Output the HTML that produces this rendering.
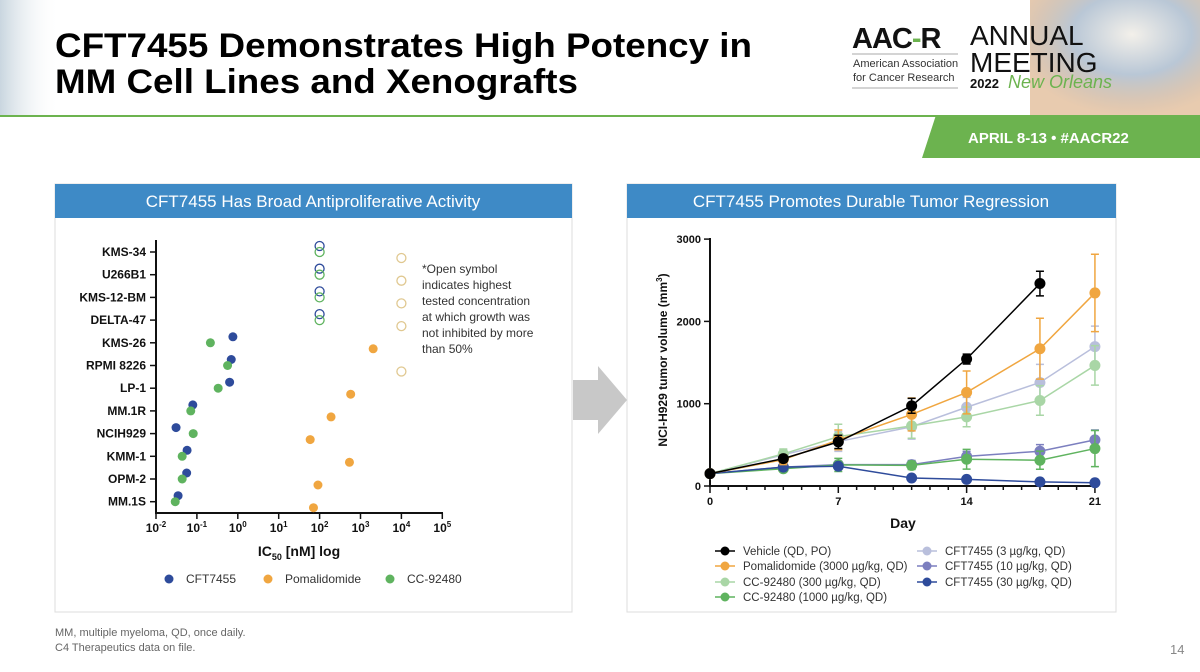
<!DOCTYPE html>
<html><head><meta charset="utf-8"><style>
body{margin:0;width:1200px;height:672px;background:#fff;font-family:"Liberation Sans",sans-serif;overflow:hidden;position:relative}
svg{position:absolute;left:0;top:0}
</style></head><body>
<svg width="1200" height="672" viewBox="0 0 1200 672">
<defs>
<linearGradient id="lg" x1="0" x2="1"><stop offset="0" stop-color="#c9d6df"/><stop offset="1" stop-color="#fff" stop-opacity="0"/></linearGradient>
<radialGradient id="rg" cx="0.6" cy="0.3" r="0.7"><stop offset="0" stop-color="#f3f0ea"/><stop offset="0.5" stop-color="#b9c7d6"/><stop offset="1" stop-color="#d8a87a" stop-opacity="0.6"/></radialGradient>
</defs>
<rect x="0" y="0" width="60" height="115" fill="url(#lg)"/>
<rect x="1030" y="0" width="170" height="115" fill="url(#rg)"/>
<line x1="0" y1="116" x2="1200" y2="116" stroke="#6cb34f" stroke-width="2"/>
<polygon points="936,115 1200,115 1200,158 922,158" fill="#6cb34f"/>
<text x="968" y="143" fill="#fff" font-size="15" font-weight="bold">APRIL 8-13 • #AACR22</text>
<g>
<text x="852" y="48" font-size="29" font-weight="bold" fill="#111" letter-spacing="-1">AAC<tspan fill="#6cb34f">-</tspan>R</text>
<line x1="852" y1="54" x2="958" y2="54" stroke="#aaa"/>
<text x="853" y="67" font-size="11" fill="#333">American Association</text>
<text x="853" y="81" font-size="11" fill="#333">for Cancer Research</text>
<line x1="852" y1="88" x2="958" y2="88" stroke="#aaa"/>
<text x="970" y="45" font-size="28" fill="#111">ANNUAL</text>
<text x="970" y="72" font-size="28" fill="#111">MEETING</text>
<text x="970" y="88" font-size="13" font-weight="bold" fill="#111">2022</text>
<text x="1008" y="88" font-size="18" font-style="italic" fill="#6cb34f">New Orleans</text>
</g>
<text x="55" y="57" font-size="34" font-weight="bold" fill="#000" textLength="697" lengthAdjust="spacingAndGlyphs">CFT7455 Demonstrates High Potency in</text>
<text x="55" y="93" font-size="34" font-weight="bold" fill="#000" textLength="523" lengthAdjust="spacingAndGlyphs">MM Cell Lines and Xenografts</text>

<rect x="55" y="184" width="517" height="428" fill="#fff" stroke="#ddd"/>
<rect x="55" y="184" width="517" height="34" fill="#3e8ac6"/>
<text x="313" y="207" font-size="17" fill="#fff" text-anchor="middle">CFT7455 Has Broad Antiproliferative Activity</text>
<rect x="627" y="184" width="489" height="428" fill="#fff" stroke="#ddd"/>
<rect x="627" y="184" width="489" height="34" fill="#3e8ac6"/>
<text x="871" y="207" font-size="17" fill="#fff" text-anchor="middle">CFT7455 Promotes Durable Tumor Regression</text>
<polygon points="573,380 598,380 598,366 627,400 598,434 598,420 573,420" fill="#c8c8c8"/>

<g id="left"></g>
<g id="right"></g>

<text x="55" y="636" font-size="11" fill="#666">MM, multiple myeloma, QD, once daily.</text>
<text x="55" y="651" font-size="11" fill="#666">C4 Therapeutics data on file.</text>
<text x="1170" y="654" font-size="13" fill="#888">14</text>
</svg>
<script>
const NS="http://www.w3.org/2000/svg";
function mk(p,t,a){const e=document.createElementNS(NS,t);for(const k in a)e.setAttribute(k,a[k]);p.appendChild(e);return e;}
// ---- Left chart data ----
const cellLines=["KMS-34","U266B1","KMS-12-BM","DELTA-47","KMS-26","RPMI 8226","LP-1","MM.1R","NCIH929","KMM-1","OPM-2","MM.1S"];
const cftLog=[2,2,2,2,-0.12,-0.16,-0.20,-1.10,-1.51,-1.24,-1.25,-1.46];
const cftOpen=[1,1,1,1,0,0,0,0,0,0,0,0];
const pomLog=[4,4,4,4,3.31,4,2.76,2.28,1.77,2.73,1.96,1.85];
const pomOpen=[1,1,1,1,0,1,0,0,0,0,0,0];
const ccLog=[2,2,2,2,-0.67,-0.25,-0.48,-1.15,-1.09,-1.36,-1.36,-1.53];
const ccOpen=[1,1,1,1,0,0,0,0,0,0,0,0];
const xTickExp=[-2,-1,0,1,2,3,4,5];
const L=document.getElementById('left');
const lx=v=>156+(v+2)*40.9;
const ly=i=>252+i*22.7;
mk(L,'line',{x1:156,y1:240,x2:156,y2:513,stroke:'#111','stroke-width':2});
mk(L,'line',{x1:155,y1:513,x2:443,y2:513,stroke:'#111','stroke-width':2});
cellLines.forEach((c,i)=>{
  mk(L,'line',{x1:150,y1:ly(i),x2:156,y2:ly(i),stroke:'#111','stroke-width':1.5});
  const t=mk(L,'text',{x:146,y:ly(i)+4,'font-size':12,'font-weight':'bold','text-anchor':'end',fill:'#111'});
  t.textContent=c;
  
});
xTickExp.forEach(e=>{
  mk(L,'line',{x1:lx(e),y1:513,x2:lx(e),y2:519,stroke:'#111','stroke-width':1.5});
  const t=mk(L,'text',{x:lx(e),y:532,'font-size':12,'font-weight':'bold','text-anchor':'middle',fill:'#111'});
  t.innerHTML='10<tspan font-size="8" dy="-5">'+e+'</tspan>';
  
});
const xl=mk(L,'text',{x:299,y:556,'font-size':14,'font-weight':'bold','text-anchor':'middle',fill:'#111'});
xl.innerHTML='IC<tspan font-size="9" dy="4">50</tspan><tspan dy="-4"> [nM] log</tspan>';

const ser=[[cftLog,cftOpen,'#2e4b9b',-6,'cft7455'],[ccLog,ccOpen,'#5fb35f',0,'cc-92480'],[pomLog,pomOpen,'#f0a640',6,'pomalidomide']];
ser.forEach(([vals,open,col,off,nm])=>{
  vals.forEach((v,i)=>{
    const c=mk(L,'circle',{cx:lx(v),cy:ly(i)+off,r:4.5,fill:open[i]?'none':col,stroke:open[i]?(nm=='pomalidomide'?'#e0c890':col):'none','stroke-width':1.3});
    
  });
});
const note=["*Open symbol","indicates highest","tested concentration","at which growth was","not inhibited by more","than 50%"];
note.forEach((s,i)=>{const t=mk(L,'text',{x:422,y:273+i*16,'font-size':12,fill:'#333'});t.textContent=s;});
const lgL=[["CFT7455",'#2e4b9b',169],["Pomalidomide",'#f0a640',268],["CC-92480",'#5fb35f',390]];
lgL.forEach(([s,c,x])=>{
  mk(L,'circle',{cx:x,cy:579,r:4.5,fill:c});
  const t=mk(L,'text',{x:x+17,y:583,'font-size':12,fill:'#333'});t.textContent=s;
});
// ---- Right chart data ----
const days=[0,4,7,11,14,18,21];
const vehicle=[150,333,536,974,1543,2460,null];
const vehicleErr=[0,40,80,90,60,150,0];
const poma=[150,320,560,870,1137,1668,2346];
const pomaErr=[0,60,120,200,260,370,470];
const cft3=[150,380,540,720,957,1258,1693];
const cft3Err=[0,60,120,150,120,220,250];
const cc300=[150,390,600,730,840,1039,1465];
const cc300Err=[0,60,150,150,120,180,240];
const cft10=[150,230,260,260,360,422,560];
const cft10Err=[0,30,40,50,60,80,120];
const cc1000=[150,210,256,250,325,313,455];
const cc1000Err=[0,30,80,50,120,110,220];
const cft30=[150,230,240,97,80,50,40];
const cft30Err=[0,20,20,20,15,10,10];
const yTicks=[0,1000,2000,3000];
const xTicks=[0,7,14,21];
const R=document.getElementById('right');
const rx=d=>710+d*18.33;
const ry=v=>486-v*0.0823;
mk(R,'line',{x1:710,y1:238,x2:710,y2:487,stroke:'#111','stroke-width':2});
mk(R,'line',{x1:709,y1:486,x2:1096,y2:486,stroke:'#111','stroke-width':2});
yTicks.forEach(v=>{
  mk(R,'line',{x1:704,y1:ry(v),x2:710,y2:ry(v),stroke:'#111','stroke-width':1.5});
  const t=mk(R,'text',{x:701,y:ry(v)+4,'font-size':11,'font-weight':'bold','text-anchor':'end',fill:'#111'});t.textContent=v;
});
for(let d=0;d<=21;d++){mk(R,'line',{x1:rx(d),y1:486,x2:rx(d),y2:d%7==0?493:490,stroke:'#111','stroke-width':1.5});}
xTicks.forEach(d=>{const t=mk(R,'text',{x:rx(d),y:505,'font-size':11,'font-weight':'bold','text-anchor':'middle',fill:'#111'});t.textContent=d;});
const dl=mk(R,'text',{x:903,y:528,'font-size':14,'font-weight':'bold','text-anchor':'middle',fill:'#111'});dl.textContent='Day';
const yt=mk(R,'text',{x:0,y:0,'font-size':12,'font-weight':'bold','text-anchor':'middle',fill:'#111',transform:'translate(667,360) rotate(-90)'});
yt.innerHTML='NCI-H929 tumor volume (mm<tspan font-size="8" dy="-5">3</tspan><tspan dy="5">)</tspan>';

const rs=[[cft3,cft3Err,'#b9bfdc','cft7455-3'],[cc300,cc300Err,'#a9d6a6','cc-92480-300'],[cft10,cft10Err,'#7c7fbf','cft7455-10'],[cc1000,cc1000Err,'#5fb35f','cc-92480-1000'],[cft30,cft30Err,'#2e4b9b','cft7455-30'],[poma,pomaErr,'#f0a640','pomalidomide'],[vehicle,vehicleErr,'#000','vehicle']];
rs.forEach(([vals,err,col,nm])=>{
  const pts=[];vals.forEach((v,i)=>{if(v!=null)pts.push(rx(days[i])+','+ry(v));});
  mk(R,'polyline',{points:pts.join(' '),fill:'none',stroke:col,'stroke-width':1.5});
  vals.forEach((v,i)=>{
    if(v==null)return;
    const x=rx(days[i]);
    if(err[i]){
      const g=mk(R,'path',{d:`M${x},${ry(v+err[i])}V${ry(v-err[i])}M${x-4},${ry(v+err[i])}H${x+4}M${x-4},${ry(v-err[i])}H${x+4}`,stroke:col,'stroke-width':1.5,fill:'none'});
      
    }
    const c=mk(R,'circle',{cx:x,cy:ry(v),r:5.5,fill:col});
    
  });
});
const lgR=[["Vehicle (QD, PO)",'#000',725,551],["Pomalidomide (3000 µg/kg, QD)",'#f0a640',725,566],["CC-92480 (300 µg/kg, QD)",'#a9d6a6',725,582],["CC-92480 (1000 µg/kg, QD)",'#5fb35f',725,597],["CFT7455 (3 µg/kg, QD)",'#b9bfdc',927,551],["CFT7455 (10 µg/kg, QD)",'#7c7fbf',927,566],["CFT7455 (30 µg/kg, QD)",'#2e4b9b',927,582]];
lgR.forEach(([s,c,x,y])=>{
  mk(R,'line',{x1:x-10,y1:y,x2:x+10,y2:y,stroke:c,'stroke-width':1.5});
  mk(R,'circle',{cx:x,cy:y,r:4.5,fill:c});
  const t=mk(R,'text',{x:x+18,y:y+4,'font-size':11.5,fill:'#333'});t.textContent=s;
});
</script>
</body></html>
